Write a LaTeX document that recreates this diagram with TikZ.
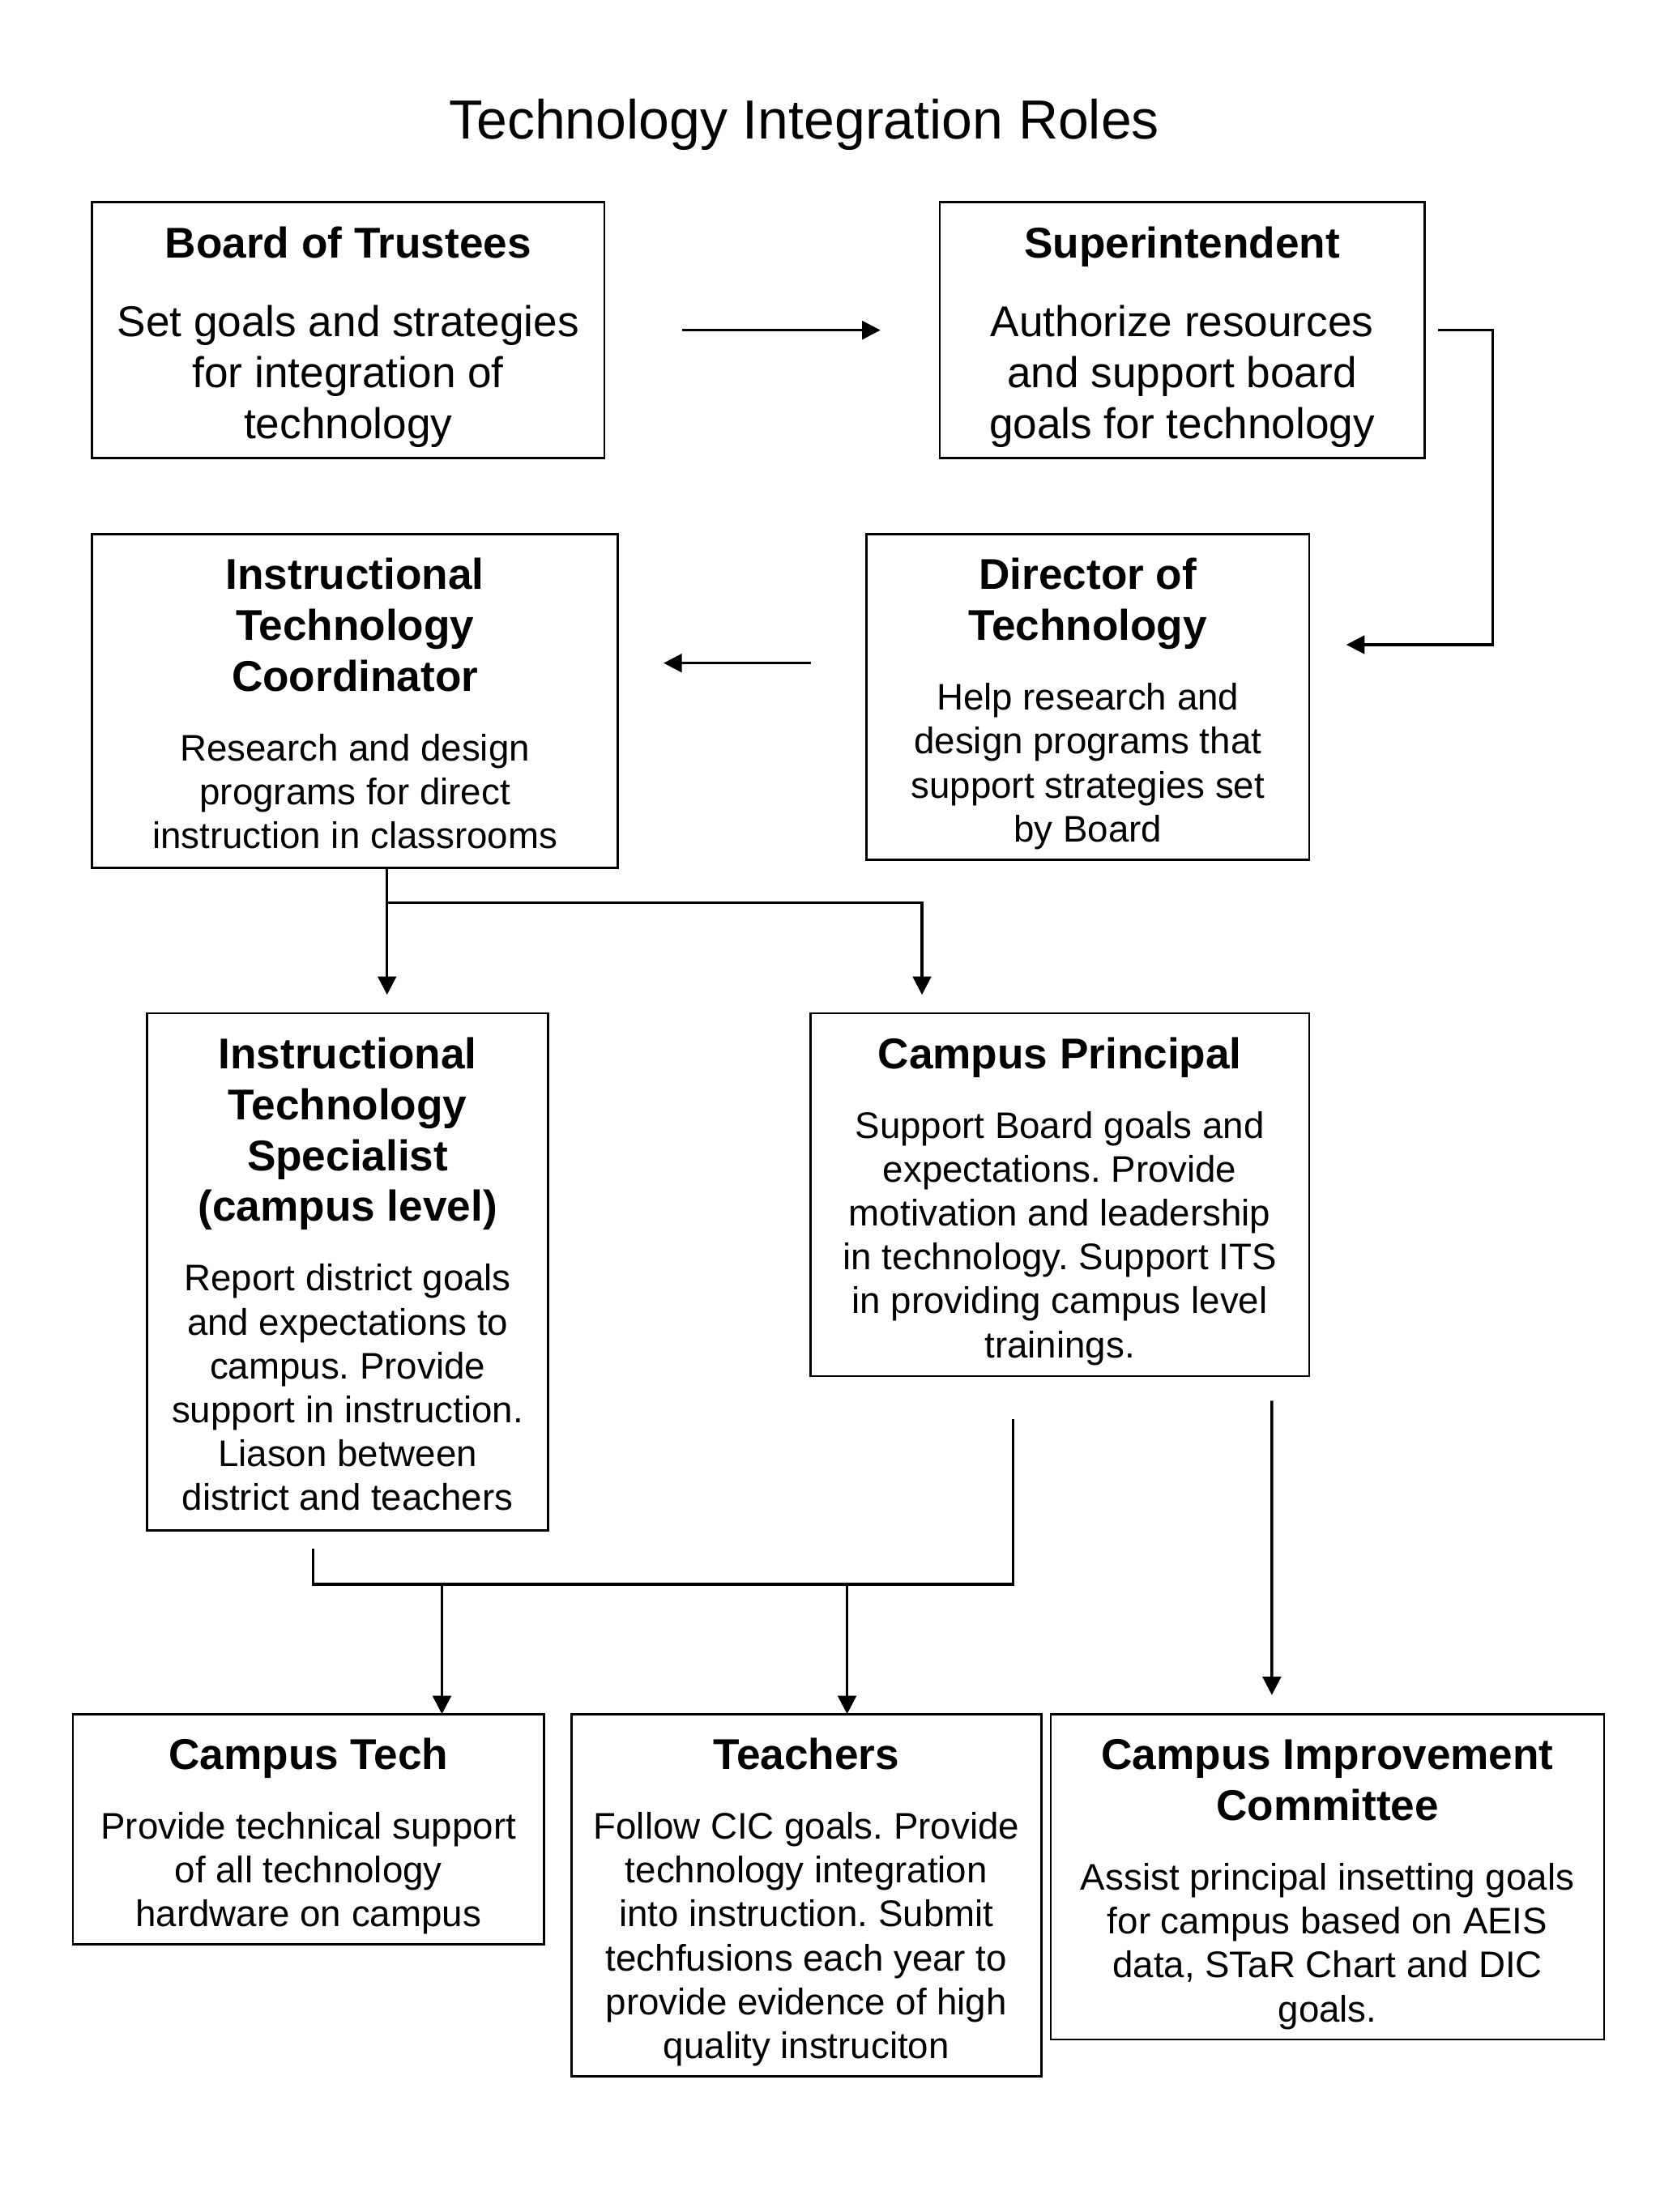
\documentclass[tikz,border=0pt]{standalone}
\usepackage{fontspec}
\setmainfont{Liberation Sans}
\usetikzlibrary{arrows.meta}
\frenchspacing

\newcommand{\rolebox}[4]{%
  \parbox[c][#2][t]{#1}{\centering
    {\fontsize{30.5}{36.1}\selectfont\bfseries\rule{0pt}{39.2pt}#3\par}%
    #4\par}}
\newcommand{\bigtext}{\vspace{19.4pt}\fontsize{30.5}{36.2}\selectfont}
\newcommand{\smalltext}{\vspace{18.2pt}\fontsize{26.2}{31.1}\selectfont}

\begin{document}
\begin{tikzpicture}[x=1pt, y=-1pt, >={Triangle[length=13pt, width=13pt]},
    role/.style={draw, line width=1.5pt, inner sep=0pt, outer sep=0pt, anchor=north west},
    link/.style={line width=1.9pt}]
  \useasboundingbox (0,0) rectangle (1175,1566.8);

  \node [font=\fontsize{39}{47}\selectfont, anchor=base] (title) at (569.5,98.5) {Technology Integration Roles};

  % District level
  \node [role] (board) at (65.2,143.3) {\rolebox{362.7pt}{181.1pt}{Board of Trustees}
    {\bigtext Set goals and strategies\\ for integration of\\ technology}};
  \node [role] (super) at (665.5,143.3) {\rolebox{343.2pt}{181.1pt}{Superintendent}
    {\bigtext Authorize resources\\ and support board\\ goals for technology}};
  \node [role] (itc) at (65.2,378.3) {\rolebox{372.4pt}{236.3pt}{Instructional\\ Technology\\ Coordinator}
    {\smalltext Research and design\\ programs for direct\\ instruction in classrooms}};
  \node [role] (director) at (613.7,378.3) {\rolebox{313.3pt}{230.7pt}{Director of\\ Technology}
    {\smalltext Help research and\\ design programs that\\ support strategies set\\ by Board}};

  % Campus level
  \node [role] (its) at (104.2,717.6) {\rolebox{284pt}{366.5pt}{Instructional\\ Technology\\ Specialist\\ (campus level)}
    {\smalltext Report district goals\\ and expectations to\\ campus. Provide\\ support in instruction.\\ Liason between\\ district and teachers}};
  \node [role] (principal) at (574,717.6) {\rolebox{353pt}{257.2pt}{Campus Principal}
    {\smalltext Support Board goals and\\ expectations. Provide\\ motivation and leadership\\ in technology. Support ITS\\ in providing campus level\\ trainings.}};

  \node [role] (tech) at (51.7,1214.1) {\rolebox{333.5pt}{162.9pt}{Campus Tech}
    {\smalltext Provide technical support\\ of all technology\\ hardware on campus}};
  \node [role] (teachers) at (404.7,1214.1) {\rolebox{332.7pt}{256.6pt}{Teachers}
    {\smalltext Follow CIC goals. Provide\\ technology integration\\ into instruction. Submit\\ techfusions each year to\\ provide evidence of high\\ quality instruciton}};
  \node [role] (cic) at (744.1,1214.1) {\rolebox{391.9pt}{230.4pt}{Campus Improvement\\ Committee}
    {\smalltext Assist principal insetting goals\\ for campus based on AEIS\\ data, STaR Chart and DIC\\ goals.}};

  % Draw the connecting arrows
  \draw [link, ->, shorten <=55pt, shorten >=42pt] (board) -- (super);
  \draw [link, ->] ([xshift=9.7pt]super.east) -- ++(38.8,0) |- ([xshift=26.4pt, yshift=37pt]director.east);
  \draw [link, ->] ([xshift=-39.7pt, yshift=24pt]director.west) -- ([xshift=32.3pt, yshift=26.8pt]itc.east);

  \coordinate (split) at ([xshift=22.7pt, yshift=-24.7pt]itc.south);
  \draw [link, ->] ([xshift=22.7pt]itc.south) -- ([xshift=27.9pt, yshift=13pt]its.north);
  \draw [link, ->] (split) -| ([xshift=-97.6pt, yshift=13pt]principal.north);

  \coordinate (bus) at ([xshift=-24.6pt, yshift=-38.1pt]its.south);
  \draw [link] ([xshift=-24.6pt, yshift=-12.7pt]its.south) -- (bus) -| ([xshift=-32.9pt, yshift=-30.5pt]principal.south);
  \foreach \n/\dx in {tech/94.5, teachers/28.8}
    \draw [link, <-] ([xshift=\dx pt]\n.north) -- ++(0,-91.9);

  \draw [link, ->] ([xshift=150.15pt, yshift=-17.4pt]principal.south) -- ([xshift=-39.4pt, yshift=13.5pt]cic.north);
\end{tikzpicture}
\end{document}
